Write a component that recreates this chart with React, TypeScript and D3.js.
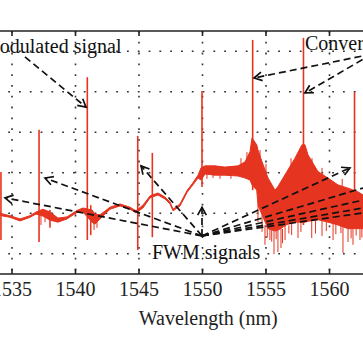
import React from "react";
import * as d3 from "d3";

// axis ticks (wavelength in nm, power in dBm)
const xTicks = [1530, 1535, 1540, 1545, 1550, 1555, 1560, 1565];
const xTickLabels = [1535, 1540, 1545, 1550, 1555, 1560];
const yTicks = [-70, -60, -50, -40, -30, -20];

// spectrum envelope: upper / lower edge of the trace
const traceWl = [
  1534.06, 1534.29, 1534.84, 1535.63, 1536.42, 1536.89, 1537.44, 1537.99, 1538.62, 1539.33,
  1540.12, 1540.59, 1541.3, 1541.54, 1541.93, 1542.72, 1543.5, 1544.29, 1544.76, 1545.31,
  1545.87, 1546.5, 1547.05, 1547.44, 1547.68, 1548.23, 1548.78, 1549.17, 1549.65, 1549.88,
  1550.2, 1550.98, 1551.77, 1552.8, 1553.35, 1553.74, 1553.9, 1554.27, 1554.37, 1554.69,
  1555.16, 1555.71, 1555.94, 1556.65, 1557.28, 1557.83, 1558.07, 1558.31, 1559.09, 1559.88,
  1560.67, 1561.46, 1562.24, 1562.64, 1563.19,
];
const traceHi = [
  -59.9, -60.2, -60.6, -61.4, -60.6, -59.7, -59.0, -59.7, -61.2, -60.9,
  -59.3, -58.7, -59.2, -60.2, -60.4, -58.5, -57.7, -58.5, -59.4, -58.0,
  -55.7, -55.0, -56.0, -57.2, -59.0, -57.7, -54.4, -52.8, -50.6, -48.8,
  -48.3, -48.3, -48.6, -48.3, -47.3, -44.8, -41.4, -43.1, -44.4, -47.3,
  -51.3, -54.3, -53.4, -49.7, -46.4, -43.1, -43.1, -45.6, -49.7, -51.3,
  -53.0, -53.8, -54.7, -55.5, -56.0,
];
const traceLo = [
  -60.4, -60.7, -61.0, -61.9, -61.0, -60.2, -60.7, -61.7, -62.2, -61.4,
  -59.8, -59.7, -62.2, -62.7, -61.4, -59.0, -58.2, -59.0, -59.9, -58.7,
  -56.2, -55.5, -56.5, -57.7, -59.4, -58.2, -54.9, -53.3, -51.3, -51.8,
  -50.3, -50.6, -50.6, -50.8, -51.3, -51.8, -53.0, -54.3, -58.0, -60.4,
  -63.8, -64.4, -64.2, -62.8, -62.2, -62.2, -62.2, -62.0, -61.6, -62.2,
  -62.9, -63.8, -63.8, -63.8, -64.2,
];

// narrow spectral lines (signals, FWM products)
const spikeWl = [1534.13, 1537.13, 1537.99, 1540.93, 1541.2, 1544.9, 1546.05, 1549.96, 1553.95, 1557.95, 1561.97];
const spikeTop = [-49.8, -39.4, -59.2, -26.4, -58.0, -40.9, -45.1, -29.8, -17.2, -16.7, -30.1];
const spikeBottom = [-66.6, -67.1, -63.6, -66.6, -65.4, -69.1, -65.9, -53.5, -54.3, -62.9, -62.9];

// noise hairs on the trace
const hairWl = [
  1554.37, 1554.69, 1554.92, 1555.31, 1555.63, 1555.94, 1556.18, 1556.5, 1557.02, 1557.52,
  1558.6, 1559.41, 1560.28, 1561.06, 1561.46, 1561.85, 1562.4, 1550.35, 1550.83, 1551.38,
  1552.24, 1537.28, 1537.6, 1541.46, 1541.69, 1553.03, 1553.5, 1554.53, 1555.0, 1556.97,
  1558.62, 1559.41, 1561.0, 1555.45, 1555.8, 1556.3, 1556.8, 1557.75, 1558.9, 1559.75,
  1560.5, 1560.9, 1561.7, 1562.1, 1562.55, 1555.1,
];
const hairFrom = [
  -58.0, -60.4, -62.9, -63.8, -64.2, -64.2, -63.6, -63.0, -62.4, -62.2,
  -61.8, -61.9, -62.5, -63.3, -63.8, -63.8, -63.8, -50.3, -50.3, -50.6,
  -50.6, -60.2, -60.4, -61.7, -61.7, -48.3, -46.9, -46.1, -49.8, -48.1,
  -48.1, -50.8, -53.3, -64.0, -64.3, -63.9, -63.0, -62.2, -61.8, -62.1,
  -62.7, -63.0, -63.8, -63.8, -63.8, -63.5,
];
const hairTo = [
  -62.2, -64.6, -67.8, -66.6, -70.1, -69.6, -68.6, -66.6, -65.4, -66.1,
  -66.1, -65.6, -66.6, -69.8, -67.1, -67.8, -66.6, -51.5, -51.3, -51.5,
  -51.5, -62.9, -62.2, -64.1, -63.6, -46.4, -44.9, -44.4, -47.8, -46.4,
  -46.4, -48.8, -51.5, -67.0, -66.4, -67.4, -65.0, -64.6, -65.0, -64.4,
  -65.2, -64.9, -66.2, -65.5, -66.0, -66.0,
];

// annotation arrows
const arrowFromWl = [1536.02, 1563.35, 1563.35, 1549.96, 1549.96, 1549.96, 1549.96, 1549.96, 1549.96, 1549.96, 1549.96, 1549.96];
const arrowFromDb = [-21.4, -20.7, -20.7, -65.6, -65.6, -65.6, -65.6, -65.6, -65.6, -65.6, -65.6, -65.6];
const arrowToWl = [1540.83, 1554.06, 1558.07, 1534.45, 1537.6, 1545.16, 1549.96, 1561.61, 1563.58, 1563.58, 1563.58, 1563.58];
const arrowToDb = [-33.8, -26.6, -30.3, -56.2, -51.3, -48.3, -58.5, -48.8, -52.9, -56.1, -58.2, -59.5];

const labelText = ["Modulated signal", "Converted signals", "FWM signals"];
const labelWl = [1532.64, 1558.07, 1546.02];
const labelDb = [-20.4, -19.7, -71.3];

const W = 363;
const H = 363;
const RED = "#e5341f";
const FONT = "'Liberation Serif', 'Times New Roman', serif";

export default function App() {
  const x = d3.scaleLinear().domain([1535, 1560]).range([12, 329.5]);
  const y = d3.scaleLinear().domain([-75, -15]).range([274, 31]);
  const left = x(1533);
  const right = x(1568);
  const top = y(-15);
  const bottom = y(-75);

  const idx = d3.range(traceWl.length);
  const area = d3
    .area<number>()
    .x((i) => x(traceWl[i]))
    .y0((i) => y(traceLo[i]))
    .y1((i) => y(traceHi[i]));

  const head = (i: number) => {
    const x1 = x(arrowFromWl[i]);
    const y1 = y(arrowFromDb[i]);
    const x2 = x(arrowToWl[i]);
    const y2 = y(arrowToDb[i]);
    const a = Math.atan2(y1 - y2, x1 - x2);
    const L = 9;
    const s = 0.5;
    return `M${x2 + L * Math.cos(a + s)},${y2 + L * Math.sin(a + s)}L${x2},${y2}L${x2 + L * Math.cos(a - s)},${y2 + L * Math.sin(a - s)}`;
  };

  return (
    <svg
      width={W}
      height={H}
      style={{ position: "absolute", left: 0, top: 0, background: "#fff", overflow: "hidden" }}
    >
      {/* grid */}
      <g stroke="#333" strokeWidth={1.6} strokeDasharray="1.8 9">
        {yTicks.map((t) => (
          <line key={"gy" + t} x1={left} x2={right} y1={y(t)} y2={y(t)} />
        ))}
        {xTicks.map((t) => (
          <line key={"gx" + t} x1={x(t)} x2={x(t)} y1={top} y2={bottom} />
        ))}
      </g>

      {/* spectrum */}
      <path d={area(idx) || ""} fill={RED} stroke={RED} strokeWidth={1} />
      <g stroke={RED} strokeWidth={1}>
        {hairWl.map((w, i) => (
          <line key={"h" + i} x1={x(w)} x2={x(w)} y1={y(hairFrom[i])} y2={y(hairTo[i])} />
        ))}
      </g>
      <g stroke={RED} strokeWidth={1.6}>
        {spikeWl.map((w, i) => (
          <line key={"s" + i} x1={x(w)} x2={x(w)} y1={y(spikeTop[i])} y2={y(spikeBottom[i])} />
        ))}
      </g>

      {/* frame and ticks */}
      <g stroke="#222" strokeWidth={1.6}>
        <line x1={left} x2={right} y1={top} y2={top} />
        <line x1={left} x2={right} y1={bottom} y2={bottom} />
        {xTicks.map((t) => (
          <g key={"t" + t}>
            <line x1={x(t)} x2={x(t)} y1={top} y2={top + 5} />
            <line x1={x(t)} x2={x(t)} y1={bottom} y2={bottom - 5} />
          </g>
        ))}
      </g>
      <g fontFamily={FONT} fontSize={20} fill="#222" textAnchor="middle">
        {xTickLabels.map((t) => (
          <text key={"l" + t} x={x(t)} y={296}>
            {t}
          </text>
        ))}
        <text x={x(1550.45)} y={325}>
          Wavelength (nm)
        </text>
      </g>

      {/* annotations */}
      <g stroke="#111" strokeWidth={1.7} fill="none">
        {arrowFromWl.map((w, i) => (
          <g key={"a" + i}>
            <line
              x1={x(w)}
              y1={y(arrowFromDb[i])}
              x2={x(arrowToWl[i])}
              y2={y(arrowToDb[i])}
              strokeDasharray="7 4"
            />
            <path d={head(i)} />
          </g>
        ))}
      </g>
      <g fontFamily={FONT} fontSize={20} fill="#111">
        {labelText.map((t, i) => (
          <text key={t} x={x(labelWl[i])} y={y(labelDb[i])}>
            {t}
          </text>
        ))}
      </g>
    </svg>
  );
}
